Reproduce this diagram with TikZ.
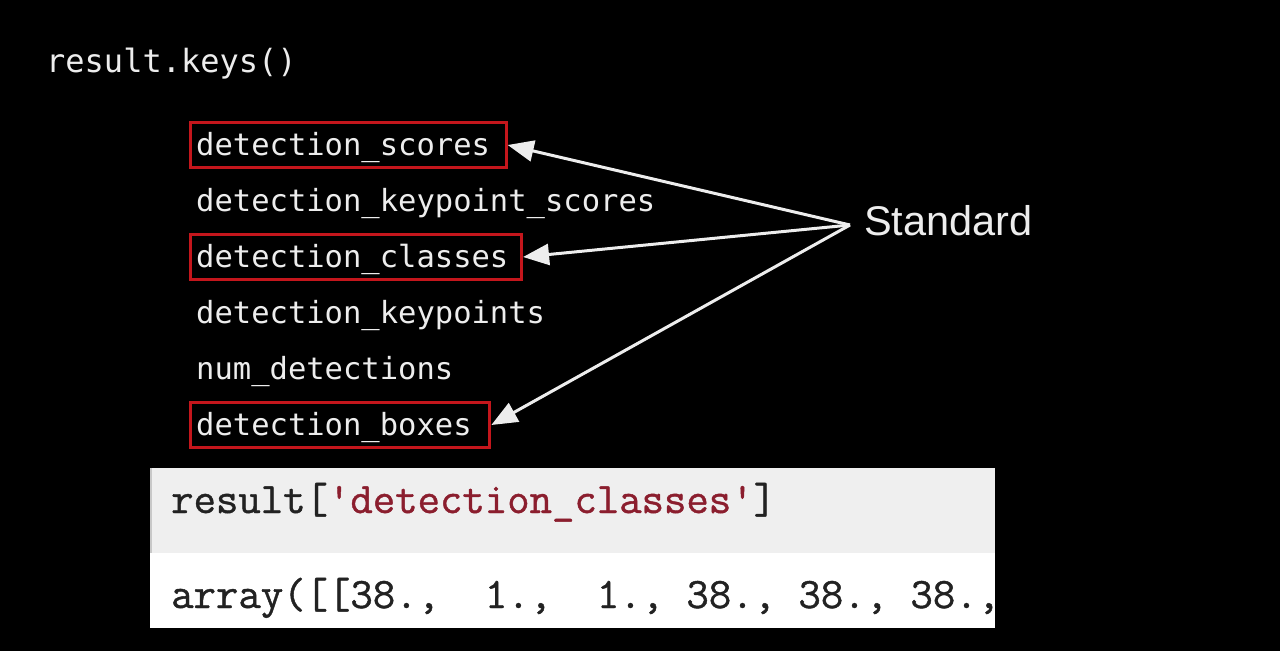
\documentclass[tikz,border=0pt]{standalone}
\usepackage{fontspec}
\usetikzlibrary{arrows.meta,fit,calc}
\newfontfamily\keyfont{DejaVu Sans Mono}
\newfontfamily\codefont{Latin Modern Mono}[FakeBold=1.0]
\newfontfamily\labfont{Liberation Sans}
\definecolor{keywhite}{HTML}{EDEDED}
\definecolor{boxred}{HTML}{C4161C}
\definecolor{panelgray}{HTML}{EFEFEF}
\definecolor{strred}{HTML}{8B1E2E}
\definecolor{edgegray}{HTML}{C8C8C8}
\definecolor{codeblack}{HTML}{222222}
\tikzset{
  keytext/.style={anchor=base west, inner sep=0pt, text height=32pt, text depth=12pt,
    text=keywhite, font=\keyfont\fontsize{30.5}{32}\selectfont},
  redbox/.style={draw=boxred, line width=3pt, inner sep=0pt},
  pointer/.style={draw=keywhite, line width=3pt, -{Triangle[length=26pt,width=21pt]}},
  codetext/.style={anchor=base west, inner sep=0pt, text=codeblack, font=\codefont\fontsize{43.5}{45}\selectfont}
}
\begin{document}
\begin{tikzpicture}[x=1pt,y=-1pt]
\useasboundingbox (0,0) rectangle (1280,651);
\fill[black] (0,0) rectangle (1280,651);

\node[anchor=base west, inner sep=0pt, text=keywhite, font=\keyfont\fontsize{32}{34}\selectfont] (title) at (46,72) {result.keys()};

\node[keytext] (k1) at (196,155) {detection\_scores};
\node[keytext] (k2) at (196,211) {detection\_keypoint\_scores};
\node[keytext] (k3) at (196,267) {detection\_classes};
\node[keytext] (k4) at (196,323) {detection\_keypoints};
\node[keytext] (k5) at (196,379) {num\_detections};
\node[keytext] (k6) at (196,435) {detection\_boxes};

\node[redbox, fit={($(k1.north west)+(-6,0)$) ($(k1.south east)+(16,0)$)}] (b1) {};
\node[redbox, fit={($(k3.north west)+(-6,0)$) ($(k3.south east)+(13,0)$)}] (b3) {};
\node[redbox, fit={($(k6.north west)+(-6,0)$) ($(k6.south east)+(18,0)$)}] (b6) {};

\node[anchor=base west, inner sep=0pt, text=keywhite, font=\labfont\fontsize{41.5}{44}\selectfont] (std) at (864,235) {Standard};
\coordinate (hub) at (850,225);
\draw[pointer] (hub) -- (b1.east);
\draw[pointer] (hub) -- (b3.east);
\draw[pointer] (hub) -- (b6.east);

% code panel
\fill[panelgray] (150,468) rectangle (995,553);
\fill[white] (150,553) rectangle (995,628);
\draw[edgegray, line width=2pt] (151,468) -- (151,553);
\begin{scope}
\clip (150,468) rectangle (995,628);
\node[codetext] (c1) at (171,513) {result[\textcolor{strred}{\textquotesingle detection\_classes\textquotesingle}]};
\node[codetext] (c2) at (171,608) {array([[38.,~~1.,~~1.,~38.,~38.,~38.,};
\end{scope}
\end{tikzpicture}
\end{document}
